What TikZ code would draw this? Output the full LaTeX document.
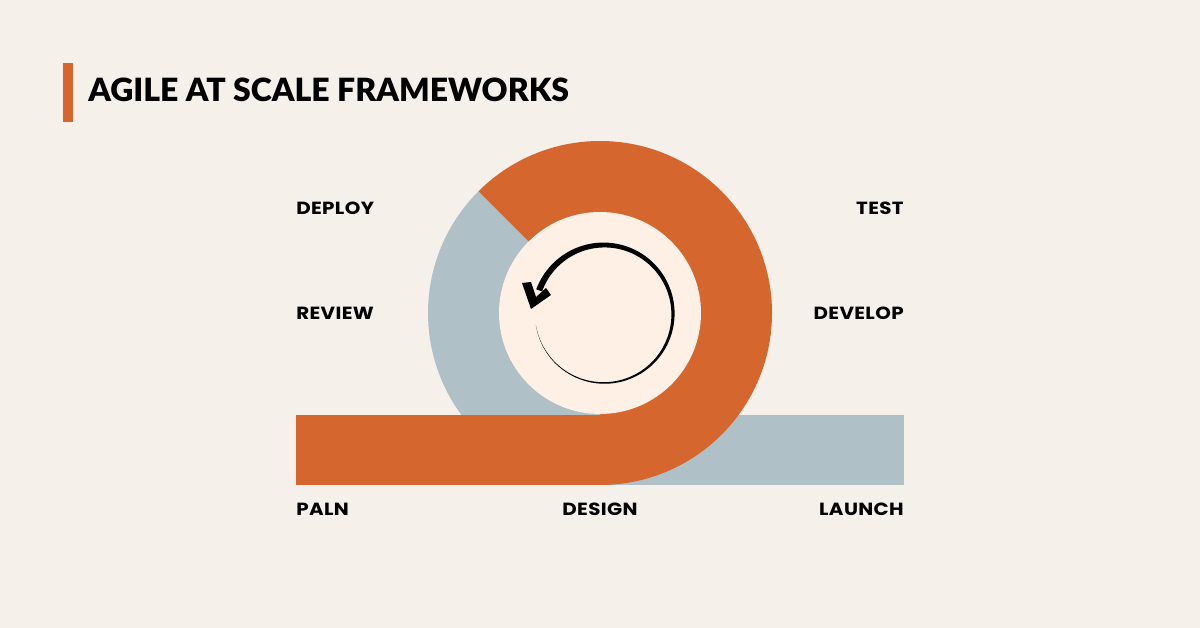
\documentclass[tikz,border=0pt]{standalone}
\usepackage{fontspec}
\setmainfont{Lato}
\newfontfamily\titlefont{Lato}[UprightFont=* Black]
\newfontfamily\labelfont{Poppins}[FakeStretch=1.13, LetterSpace=2]
\usetikzlibrary{calc}
\definecolor{bgc}{HTML}{F5F0EA}
\definecolor{orng}{HTML}{D5662E}
\definecolor{greyc}{HTML}{AFC1C6}
\definecolor{creamc}{HTML}{FEF0E4}
\tikzset{
  lbl/.style={inner sep=0pt, font=\labelfont\bfseries\fontsize{13.2pt}{15pt}\selectfont, text=black},
  ttl/.style={inner sep=0pt, anchor=base west, font=\titlefont\fontsize{24pt}{28pt}\selectfont, text=black},
  declare function={wd(\t)=6.2*(\t-189)/331;}
}
\begin{document}
\begin{tikzpicture}[x=0.75pt,y=0.75pt]
\fill[bgc] (0,0) rectangle (1200,628);
\useasboundingbox (0,0) rectangle (1200,628);
% title
\fill[orng] (63,628-63) rectangle (73,628-122);
\node[ttl] (title) at (88,628-102) {AGILE AT SCALE FRAMEWORKS};
% loop
\coordinate (c) at (600,315);
% grey part
\fill[greyc] (600,143) rectangle (904,213);
\fill[greyc] ($(c)+(135:172)$) arc[start angle=135, end angle=270, radius=172]
  -- ($(c)+(270:100)$) arc[start angle=270, end angle=135, radius=100] -- cycle;
% orange part
\fill[orng] (296,143) rectangle (600.5,213);
\fill[orng] ($(c)+(-90:172)$) arc[start angle=-90, end angle=135, radius=172]
  -- ($(c)+(135:100)$) arc[start angle=135, end angle=-90, radius=100] -- cycle;
% inner circle
\fill[creamc] (c) circle[radius=101];
% circular arrow
\fill[black] plot[domain=189:520, samples=120] ({604+(69+wd(\x)/2)*cos(\x)}, {314+(69+wd(\x)/2)*sin(\x)})
  -- plot[domain=520:189, samples=120] ({604+(69-wd(\x)/2)*cos(\x)}, {314+(69-wd(\x)/2)*sin(\x)}) -- cycle;
\fill[black] (522,628-283) -- (531,628-309) -- (551,628-295) -- (546,628-288)
  -- (536,628-297) -- (531,628-282) -- cycle;
% labels
\node[lbl, anchor=base west] (deploy) at (296,628-215) {DEPLOY};
\node[lbl, anchor=base east] (test) at (904,628-215) {TEST};
\node[lbl, anchor=base west] (review) at (296,628-320) {REVIEW};
\node[lbl, anchor=base east] (develop) at (904,628-320) {DEVELOP};
\node[lbl, anchor=base west] (paln) at (296,628-516) {PALN};
\node[lbl, anchor=base] (design) at (600,628-516) {DESIGN};
\node[lbl, anchor=base east] (launch) at (904,628-516) {LAUNCH};
\end{tikzpicture}
\end{document}
